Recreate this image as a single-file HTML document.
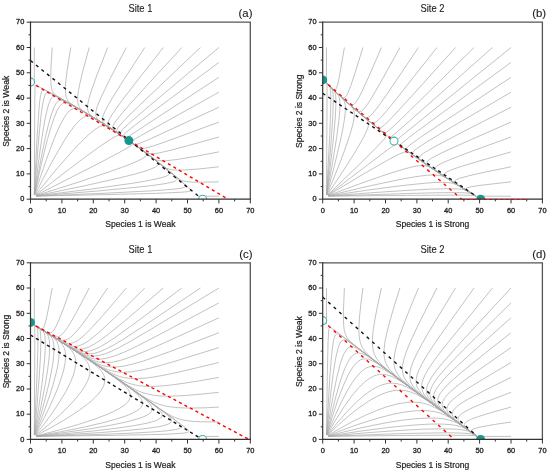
<!DOCTYPE html>
<html><head><meta charset="utf-8"><title>Phase planes</title>
<style>html,body{margin:0;padding:0;background:#fff;overflow:hidden;} svg{display:block;}</style>
</head><body>
<svg width="550" height="473" viewBox="0 0 550 473">
<rect width="550" height="473" fill="#fff"/>
<clipPath id="cpa"><rect x="30.5" y="22.2" width="219.8" height="177.0"/></clipPath>
<g clip-path="url(#cpa)">
<g fill="none" stroke="#a8a8a8" stroke-width="0.7">
<path d="M34.3 47.5l0 36.8"/>
<path d="M52.2 47.5l-1.3 21.1-.1 12.7 .3 4.3 .5 3.2 .8 2.5 1.3 2 1.9 1.9 2.8 1.9 23.9 13.7 18.4 11.2 13.3 8.5 12.8 8.7"/>
<path d="M70.7 47.5l-3.6 23.2-1 8.3-.6 6.1-.1 5.1 .2 3.9 .7 3.3 1.1 2.5 .9 1.3 1.4 1.4 3.4 2.6 30.2 18.4 12.2 7.9 11.9 8.1"/>
<path d="M89.2 47.5l-7 26.1-2.1 8.9-1.4 6.8-.8 5.5-.3 4.3 .2 3.4 .8 3 .8 1.6 1.2 1.5 1.5 1.4 2.2 1.7 25 15.7 18.6 12.5"/>
<path d="M107.7 47.5l-11.1 28.5-5.9 16.8-1.7 5.9-1.1 4.7-.4 3.7 .3 3.1 .6 1.8 1 1.6 1.4 1.6 1.8 1.5 21.6 14 13.9 9.3"/>
<path d="M126.3 47.5l-16.1 31-8.5 17.4-2.8 6.3-1.8 4.9-1.1 4-.3 3.1 .2 1.8 .7 1.7 1.1 1.5 1.7 1.6 28.7 19.3"/>
<path d="M144.8 47.5l-21.7 33.3-11.4 18.3-3.7 6.3-2.7 5.2-1.8 4.1-.9 3-.2 1.8 .3 1.8 .8 1.4 1.4 1.5 2.9 2.2 20.5 13.8"/>
<path d="M163.3 47.5l-28.7 36.6-13.9 18.1-8.2 11.6-2.4 4.1-1.5 3.1-.5 2 0 1.6 .5 1.5 1 1.1 2.6 2.1 16.2 11"/>
<path d="M181.8 47.5l-35.9 39.1-16.5 18.2-10.1 11.8-3.2 4.1-2 3-1 1.9-.4 1.6 .1 1.2 .8 1.4 2.3 1.9 12.5 8.6"/>
<path d="M200.4 47.5l-63.4 60.2-11.9 11.8-6.2 6.8-1.4 2.1-.7 1.5-.1 1.2 .4 1 1.9 1.7 9.5 6.5"/>
<path d="M218.9 47.5l-74.9 62.9-13.5 11.6-7.2 6.7-2.7 3.4-.5 1.2 0 .7 .5 .7 .9 .8 7 4.9"/>
<path d="M218.9 196.2l-20.6 0"/>
<path d="M218.9 181.8l-16.1 .4-10.4-.1-6.5-.6-2.4-.5-2.3-.8-1.8-1-2.2-1.5-24.3-19.5-11.1-8.3-11.3-8.2"/>
<path d="M218.9 166.8l-20.7 2.2-13.9 1-8.9 .1-3.5-.3-2.6-.6-3-1.1-3.3-2.1-18.1-13.9-15-10.8"/>
<path d="M218.9 151.9l-25.2 4.8-16.5 2.8-10.7 1.2-3.7 .2-3.1-.2-3.3-.8-3.3-1.7-23.5-17.1"/>
<path d="M218.9 137l-29.3 8.2-18.6 5-11.8 2.7-4.1 .7-3 .2-3.5-.2-1.5-.4-1.4-.7-16.3-11.5"/>
<path d="M218.9 122.1l-53.2 19.6-12.4 4.3-7.6 2.1-3.4 .4-1.3-.1-1.2-.3-2-1.2-8.6-6.1"/>
<path d="M218.9 107.2l-58.6 27.1-12.8 5.8-7.5 3.1-3.3 1-2 .2-1.2-.6-4.5-3.1"/>
<path d="M218.9 92.2l-83.3 46.4-5.2 2.6-.5 .1-.8-.6"/>
<path d="M218.9 77.3l-66.4 43.4-21.5 14.2-3.1 2.3-1.3 1.3-.1 .2 .3 .4 1.8 1.3"/>
<path d="M218.9 62.4l-71 53-13.5 10.3-7.5 6-3.1 3-.5 .9-.1 .7 .9 .9 4.5 3.2"/>
<path d="M34.3 194.6l.5-95.3 .2-11.7 .2-1.8 .3-.6 2.5 1.1 15.5 8.2 21.9 12.3 19.1 11.3 18 11.4"/>
<path d="M34.3 194.6l2.4-50.8 2.1-32.1 .8-9.6 .9-6.5 1-3.7 .5-1 .6-.7 .8-.3 1 .1 3.3 1.4 13.8 7.5 14.9 8.4 12.6 7.5 12.1 7.4 11.5 7.4 11.2 7.5"/>
<path d="M34.4 194.7l3.6-47.6 1.6-17.6 1.4-13.8 1.4-9.8 1.3-6.8 1.3-4 .8-1.4 .7-.8 1-.4 1 0 3.1 1.2 8.1 4.2 13.9 7.8 13.7 8.1 13 7.9 12.4 8 12.3 8.2"/>
<path d="M34.4 194.7l5.6-43.8 2.5-16.9 2.2-13.1 2.1-10 1.9-7 1.9-4.3 1-1.6 1-.9 1-.4 1-.2 1.2 .1 1.6 .5 4.1 1.9 8.1 4.5 15 8.7 14.4 8.7 13.8 8.8 13 8.8"/>
<path d="M34.5 194.7l4-22.4 3.6-19.2 3.3-15.8 3.1-12.9 2.7-9.4 2.5-7.1 1.3-2.6 1.1-1.9 1.3-1.5 1.3-1 1.9-.6 1.4 .1 1.3 .3 3.4 1.3 5.6 3 13.8 8 14.1 8.7 13.3 8.5 13.1 8.8"/>
<path d="M34.6 194.7l4.6-21.2 4.3-18.5 3.9-15.4 3.6-12.4 3.2-9.5 2.9-7 1.3-2.4 1.5-2.2 1.3-1.5 1.3-1 1-.4 1.3-.3 2.4 .2 3.3 1.2 4.7 2.4 12.3 7.2 13.9 8.5 12.8 8.2 12.6 8.5"/>
<path d="M34.7 194.7l6.1-18.9 5.8-16.7 5.1-14.1 4.7-11.7 4.2-9.2 3.7-6.7 1.8-2.7 1.8-2.3 1.5-1.6 1.6-1.2 2.2-.9 2.7-.1 2.8 .7 4 1.9 8.7 5 12.9 8 11.7 7.6 11.3 7.7"/>
<path d="M35 194.8l8.4-16.7 7.8-14.7 7.2-12.8 6.2-10.5 5.6-8.4 4.9-6.6 4.2-4.5 2-1.7 1.8-1.3 2.5-1.1 2.4-.3 2.6 .4 3.2 1.4 5 2.8 9 5.7 19.9 13.3"/>
<path d="M35.3 194.9l21.6-26.1 9.4-10.8 8.4-9.4 7.2-7.4 6.2-6.1 5.3-4.5 4.2-2.9 2.5-1.3 2.3-.7 2.1 0 2.2 .6 2.4 1.1 3.3 2 15.7 10.7"/>
<path d="M35.6 195.1l27.1-21 22.7-17.2 16.5-11.9 10.7-7 4.8-2.5 1.5-.4 1.3 0 2 .9 6.3 4.3"/>
<path d="M35.9 195.4l61.8-31.5 18.6-9.8 11.2-6.2 3.9-2.5 1.4-1.4 0-.5-.3-.3-3.5-2.5"/>
<path d="M36 195.6l41.9-13.3 31.7-10.6 12.1-4.3 9.3-3.5 6.9-3 5-2.5 2-1.4 1.3-1.4 .2-1.2-.5-1.1-1.3-1.3-2.2-1.7-12.9-9.3"/>
<path d="M36.1 195.8l48.5-10 35.8-8.1 13.3-3.3 10-2.8 7.1-2.5 4.6-2.1 1.8-1.3 .8-1.3 0-.8-.3-.7-1.2-1.6-3.1-2.7-6.6-5-16.9-12.3"/>
<path d="M36.1 195.9l55.8-6.9 39.7-5.6 13.8-2.3 10.6-2.1 7.2-1.8 2.7-.9 1.8-.9 1.4-1.1 .3-.7 0-.8-.7-1.4-1.9-2-6.2-5.1-10.5-8.2-19.5-14.3"/>
<path d="M36.1 196l61.3-5 42.7-4.1 14.4-1.7 10.3-1.5 7-1.5 2.2-.6 1.7-.8 1.1-1.1 .1-.5-.1-.7-1.2-1.7-2.5-2.3-9.2-7.6-11.2-8.8-10.7-8.1-10.8-7.8"/>
<path d="M36.1 196.1l69.2-2.9 45.6-2.3 14.5-1 10.2-.9 6.3-.9 3-1 .6-.5 .2-.5-.3-.7-.6-.8-2.6-2.5-6.5-5.6-10.7-8.7-10.8-8.5-10.6-8.1-10.9-7.9"/>
<path d="M36.2 196.1l74.4-1.6 47.4-1.2 23.9-1.1 5.6-.5 2.9-.7 .4-.3 .1-.5-.4-.6-.9-1-16.6-14.3-19.3-15.4-19.3-14.4"/>
</g>
<line x1="30.5" y1="60.6" x2="202.3" y2="199.2" stroke="#111" stroke-width="1.4" stroke-dasharray="3.10 3.97"/>
<line x1="30.5" y1="82.1" x2="228.0" y2="199.2" stroke="#f00" stroke-width="1.4" stroke-dasharray="3.10 3.29"/>
<circle cx="128.9" cy="140.6" r="4.5" fill="#17968f"/>
<circle cx="30.5" cy="82.1" r="4" fill="#fff" stroke="#45afa7" stroke-width="1.05"/>
<circle cx="202.6" cy="199.2" r="4" fill="#fff" stroke="#45afa7" stroke-width="1.05"/>
</g>
<path d="M30.5 22.2H250.3V199.2" fill="none" stroke="#555" stroke-width="1.3"/>
<path d="M30.5 21.599999999999998V199.2H250.9" fill="none" stroke="#333" stroke-width="1.2"/>
<path d="M30.5 199.2v4.2M30.5 199.2h-3.8M46.2 199.2v2.2M30.5 186.6h-2M61.9 199.2v4.2M30.5 173.9h-3.8M77.6 199.2v2.2M30.5 161.3h-2M93.3 199.2v4.2M30.5 148.6h-3.8M109.0 199.2v2.2M30.5 136.0h-2M124.7 199.2v4.2M30.5 123.3h-3.8M140.4 199.2v2.2M30.5 110.7h-2M156.1 199.2v4.2M30.5 98.1h-3.8M171.8 199.2v2.2M30.5 85.4h-2M187.5 199.2v4.2M30.5 72.8h-3.8M203.2 199.2v2.2M30.5 60.1h-2M218.9 199.2v4.2M30.5 47.5h-3.8M234.6 199.2v2.2M30.5 34.8h-2M250.3 199.2v4.2M30.5 22.2h-3.8" stroke="#333" stroke-width="1" fill="none"/>
<g font-family="'Liberation Sans', Arial, Helvetica, sans-serif" font-size="7.4" fill="#222" stroke="#222" stroke-width="0.3">
<text x="30.5" y="212.8" text-anchor="middle">0</text>
<text x="24.3" y="201.4" text-anchor="end">0</text>
<text x="61.9" y="212.8" text-anchor="middle">10</text>
<text x="24.3" y="176.1" text-anchor="end">10</text>
<text x="93.3" y="212.8" text-anchor="middle">20</text>
<text x="24.3" y="150.8" text-anchor="end">20</text>
<text x="124.7" y="212.8" text-anchor="middle">30</text>
<text x="24.3" y="125.5" text-anchor="end">30</text>
<text x="156.1" y="212.8" text-anchor="middle">40</text>
<text x="24.3" y="100.3" text-anchor="end">40</text>
<text x="187.5" y="212.8" text-anchor="middle">50</text>
<text x="24.3" y="75.0" text-anchor="end">50</text>
<text x="218.9" y="212.8" text-anchor="middle">60</text>
<text x="24.3" y="49.7" text-anchor="end">60</text>
<text x="250.3" y="212.8" text-anchor="middle">70</text>
<text x="24.3" y="24.4" text-anchor="end">70</text>
</g>
<text x="140.4" y="12.4" text-anchor="middle" font-family="'Liberation Sans', Arial, Helvetica, sans-serif" font-size="10.3" fill="#222" stroke="#222" stroke-width="0.12" textLength="24" lengthAdjust="spacingAndGlyphs">Site 1</text>
<text x="252.5" y="16.7" text-anchor="end" font-family="'Liberation Sans', Arial, Helvetica, sans-serif" font-size="11.4" fill="#222" stroke="#222" stroke-width="0.12">(a)</text>
<text x="140.4" y="227.4" text-anchor="middle" font-family="'Liberation Sans', Arial, Helvetica, sans-serif" font-size="9.1" fill="#222" stroke="#222" stroke-width="0.22" textLength="70.2" lengthAdjust="spacingAndGlyphs">Species 1 is Weak</text>
<text transform="translate(9.4 111.2) rotate(-90)" x="0" y="0" text-anchor="middle" font-family="'Liberation Sans', Arial, Helvetica, sans-serif" font-size="9.1" fill="#222" stroke="#222" stroke-width="0.22" textLength="70.9" lengthAdjust="spacingAndGlyphs">Species 2 is Weak</text>
<clipPath id="cpb"><rect x="322.7" y="22.2" width="219.7" height="177.0"/></clipPath>
<g clip-path="url(#cpb)">
<g fill="none" stroke="#a8a8a8" stroke-width="0.7">
<path d="M326.5 47.5l0 35.5"/>
<path d="M344.4 47.5l-5.2 30.1-1.6 7.3-1.4 3.9-.5 .8-.6 .5-.5 0-.7-.2-1.8-1.4-5.5-5.2"/>
<path d="M362.9 47.5l-7.1 23.1-4.6 14-3.2 8.2-1.3 2.5-1.2 1.5-1 .8-1 .2-1-.2-1.3-.8-4.5-3.9-10-9.6"/>
<path d="M381.4 47.5l-12.1 28-7.3 15.9-2.7 5.3-2.1 3.6-1.8 2.5-1.5 1.5-1.2 .6-1.3 0-1.4-.5-1.9-1.3-9.1-8.1-12.3-11.7"/>
<path d="M399.9 47.5l-18.4 33.3-9.9 17.1-3.4 5.3-2.8 3.9-2.2 2.6-1.9 1.4-1.5 .4-1.3-.2-1.7-.8-2.3-1.6-13.7-12.2-14.2-13.5"/>
<path d="M418.4 47.5l-25.4 37.8-12.7 18.4-4.4 5.8-3.2 3.9-2.6 2.6-2.1 1.3-1.5 .3-1.5-.4-1.8-1.1-2.5-1.8-17.4-15.3-16.5-15.6"/>
<path d="M436.9 47.5l-33.6 42.7-15.3 19.1-5.1 5.9-3.8 4.1-2.8 2.4-2.1 1.2-1.5 .2-1.7-.6-1.9-1.3-3.6-2.9-10.1-8.6-10-8.8-9.5-8.8-8.9-8.5"/>
<path d="M455.5 47.5l-42.8 47.5-18.2 19.8-5.7 6-4.1 3.9-2.7 2.2-2.1 1.1-1 .2-.8-.2-1.8-.9-11.6-9.5-19.5-16.9-9.1-8.4-8.6-8.2"/>
<path d="M474 47.5l-73.9 72.6-10.4 9.6-2.8 2.2-1.9 .9-.7 0-.8-.1-1.7-1.1-18.5-15.1-17.9-15.6-16.5-15.4"/>
<path d="M492.5 47.5l-87.6 77.6-10.9 9.4-2.6 2-1.4 .7-.7 0-1.3-.8-20.6-16.5-15.9-13.6-14.8-13.5"/>
<path d="M511 47.5l-116 93.7-.2 .4 .2 .2 14.8 11"/>
<path d="M511 196.2l-34.7 0"/>
<path d="M511 181.8l-31.9 3.7-7.9 1.3-4.3 1.1-.9 .5-.3 .4 0 .5 .6 .8 2.5 1.7 7.2 4.3"/>
<path d="M511 166.8l-26.3 5.4-16 3.6-9.1 2.5-2.8 1.1-1.6 1-.6 .8 0 1 .6 .8 1.4 1.2 6.5 4.2 12.9 7.6"/>
<path d="M511 151.9l-32.5 9.3-18.7 5.7-6.2 2.1-4.4 1.8-2.8 1.4-1.7 1.4-.4 1.2 .3 .9 1 1.2 2 1.6 12.3 7.9 16.1 9.7"/>
<path d="M511 137l-38.8 14.1-20.9 8-6.6 2.8-4.6 2.2-3.1 1.8-1.6 1.6-.3 1.2 .4 1.2 1.3 1.3 2.5 1.9 17.3 11.3 19.3 11.6"/>
<path d="M511 122.1l-45.4 19.9-22.4 10.2-7.2 3.6-4.7 2.6-3 2.1-1.3 1.6-.2 1.3 .7 1.3 1.7 1.6 3.2 2.3 21.6 14.2 21.9 13.2"/>
<path d="M511 107.2l-51.9 26.6-23.5 12.4-7.4 4.2-4.7 2.9-2.9 2.3-1.3 1.7-.1 .7 .2 .8 1.1 1.4 2.7 2.1 5.7 4 11.9 7.9 11.7 7.6 11.7 7.2 11.5 6.9"/>
<path d="M511 92.2l-58.1 34.1-24.4 14.6-7.3 4.7-4.7 3.2-2.8 2.3-1.2 1.7-.1 .7 .2 .8 1.6 1.6 15.2 10.7 11.7 7.8 11.5 7.5 11.5 7.1 11.1 6.6"/>
<path d="M511 77.3l-64.6 42.7-24.6 16.4-12 8.6-2.6 2.3-1.1 1.5 0 .5 .3 .7 1.7 1.5 10.6 7.7 11.9 8.2 21.9 14.4 21.5 13.1"/>
<path d="M511 62.4l-95.7 70.3-11.6 8.9-2.4 2.1-.9 1.3-.1 .5 .3 .4 1.8 1.4 12.5 9.2 13 9.1 19.9 13.2 19.9 12.4"/>
<path d="M326.5 194.6l.5-94.4 0-14.2-.1-2-.2-.7"/>
<path d="M326.6 194.7l3.2-60.9 .8-21 .3-14.1-.2-7-.5-3.9-.9-1.8-2.8-2.9"/>
<path d="M326.6 194.7l2.9-32.9 2.1-27.1 1.3-20.5 .4-13.8-.3-6.8-.3-2.3-.5-1.8-1.4-2.1-4.2-4.2"/>
<path d="M326.7 194.7l4.1-32.7 2.9-26.4 1.7-19.7 .6-13.7-.3-6.4-.5-2.4-.6-1.7-1.8-2.4-6.1-6"/>
<path d="M326.7 194.7l5.9-32.3 4.2-25.9 2.4-19.1 .6-7.1 .2-5.6-.1-3.2-.3-2.6-.6-2.1-.9-1.9-2.2-2.7-9.3-9"/>
<path d="M326.9 194.7l8.2-31.8 5.9-24.9 1.9-9.6 1.4-8.3 .9-6.6 .2-5.1-.1-3.1-.5-2.4-.7-1.9-1.1-1.8-2.6-2.9-13.9-13.1"/>
<path d="M327.1 194.7l12.4-30.9 4.7-12.5 3.8-10.8 2.9-9 1.9-7 1.2-5.6 .3-4.5-.1-2.3-.6-2-.8-1.7-1.4-1.8-24.6-23.2"/>
<path d="M327.4 194.8l19.1-29.1 7.3-11.5 5.6-9.5 4.2-7.4 2.8-5.8 1.6-4.3 .6-3.2-.2-1.3-.4-1.2-.8-1.3-1.3-1.4-21.5-18.8-17.3-16.3"/>
<path d="M327.7 195l29-28 18.5-18.3 8.6-9.2 1.8-2.4 .5-1.4-.3-.7-.8-.9-16.4-13.2-14.9-12.7-10.6-9.4-10-9.3"/>
<path d="M327.8 195.1l55.9-42.4 9.8-7.2 2.2-1.4 1.2-.4 .5 0 .6 .4 13.1 9.7 13.1 9.2 19.7 13.3"/>
<path d="M328 195.3l34.8-20.9 23.8-13.7 7.6-4.1 5.5-2.7 4.1-1.6 2.6-.5 1.8 .3 1.8 .9 17.6 12.3 15 10.1 15.8 10.1 15.3 9.2"/>
<path d="M328.2 195.5l37.4-13.8 15-5.2 12.9-4.3 10.1-3 8.1-2.2 6.1-1.2 4.8-.3 2.1 .1 2.1 .4 2 .7 2.1 1.1 24.9 16 19.9 12.1"/>
<path d="M328.3 195.7l39.6-9.4 30.6-6.5 11.6-2.2 9.7-1.5 7.7-.9 6.2-.3 3.3 .2 3 .4 2.5 .8 2.5 1 3.4 2 15.2 9.4 12.5 7.4"/>
<path d="M328.3 195.9l40.9-6 32.7-4.3 24.2-2.5 9-.6 7-.2 4.4 .1 3.5 .4 2.9 .6 2.6 .8 4.1 2.1 16.5 9.8"/>
<path d="M328.3 196l42.3-3.2 34.7-2.3 26.1-1.4 18.2-.4 9.2 .3 2.9 .3 2.6 .6 3.5 1.4 8.4 4.8"/>
<path d="M328.3 196.1l79.3-2.6 27.5-.7 19.3-.2 9.8 .2 5.3 .4 2.7 .7 4 2.3"/>
<path d="M328.3 196.1l79.6-.7 48.5-.3 16.3 .2 2.1 .2 1.3 .6"/>
</g>
<line x1="322.7" y1="93.3" x2="474.6" y2="195.1" stroke="#111" stroke-width="1.4" stroke-dasharray="3.10 3.52"/>
<line x1="322.7" y1="79.9" x2="461.7" y2="199.2" stroke="#f00" stroke-width="1.4" stroke-dasharray="3.10 4.15"/>
<circle cx="322.7" cy="79.9" r="4.5" fill="#17968f"/>
<circle cx="480.7" cy="199.2" r="4.5" fill="#17968f"/>
<circle cx="394.0" cy="141.1" r="4" fill="#fff" stroke="#45afa7" stroke-width="1.05"/>
</g>
<path d="M322.7 22.2H542.4V199.2" fill="none" stroke="#555" stroke-width="1.3"/>
<path d="M322.7 21.599999999999998V199.2H543.0" fill="none" stroke="#333" stroke-width="1.2"/>
<line x1="461.7" y1="199.55" x2="526.7" y2="199.55" stroke="#e00" stroke-width="1.1" stroke-dasharray="2.9 2.6"/>
<path d="M322.7 199.2v4.2M322.7 199.2h-3.8M338.4 199.2v2.2M322.7 186.6h-2M354.1 199.2v4.2M322.7 173.9h-3.8M369.8 199.2v2.2M322.7 161.3h-2M385.5 199.2v4.2M322.7 148.6h-3.8M401.2 199.2v2.2M322.7 136.0h-2M416.9 199.2v4.2M322.7 123.3h-3.8M432.5 199.2v2.2M322.7 110.7h-2M448.2 199.2v4.2M322.7 98.1h-3.8M463.9 199.2v2.2M322.7 85.4h-2M479.6 199.2v4.2M322.7 72.8h-3.8M495.3 199.2v2.2M322.7 60.1h-2M511.0 199.2v4.2M322.7 47.5h-3.8M526.7 199.2v2.2M322.7 34.8h-2M542.4 199.2v4.2M322.7 22.2h-3.8" stroke="#333" stroke-width="1" fill="none"/>
<g font-family="'Liberation Sans', Arial, Helvetica, sans-serif" font-size="7.4" fill="#222" stroke="#222" stroke-width="0.3">
<text x="322.7" y="212.8" text-anchor="middle">0</text>
<text x="316.5" y="201.4" text-anchor="end">0</text>
<text x="354.1" y="212.8" text-anchor="middle">10</text>
<text x="316.5" y="176.1" text-anchor="end">10</text>
<text x="385.5" y="212.8" text-anchor="middle">20</text>
<text x="316.5" y="150.8" text-anchor="end">20</text>
<text x="416.9" y="212.8" text-anchor="middle">30</text>
<text x="316.5" y="125.5" text-anchor="end">30</text>
<text x="448.2" y="212.8" text-anchor="middle">40</text>
<text x="316.5" y="100.3" text-anchor="end">40</text>
<text x="479.6" y="212.8" text-anchor="middle">50</text>
<text x="316.5" y="75.0" text-anchor="end">50</text>
<text x="511.0" y="212.8" text-anchor="middle">60</text>
<text x="316.5" y="49.7" text-anchor="end">60</text>
<text x="542.4" y="212.8" text-anchor="middle">70</text>
<text x="316.5" y="24.4" text-anchor="end">70</text>
</g>
<text x="432.5" y="12.4" text-anchor="middle" font-family="'Liberation Sans', Arial, Helvetica, sans-serif" font-size="10.3" fill="#222" stroke="#222" stroke-width="0.12" textLength="24" lengthAdjust="spacingAndGlyphs">Site 2</text>
<text x="546.1" y="16.7" text-anchor="end" font-family="'Liberation Sans', Arial, Helvetica, sans-serif" font-size="11.4" fill="#222" stroke="#222" stroke-width="0.12">(b)</text>
<text x="432.5" y="227.4" text-anchor="middle" font-family="'Liberation Sans', Arial, Helvetica, sans-serif" font-size="9.1" fill="#222" stroke="#222" stroke-width="0.22" textLength="73.5" lengthAdjust="spacingAndGlyphs">Species 1 is Strong</text>
<text transform="translate(301.6 111.2) rotate(-90)" x="0" y="0" text-anchor="middle" font-family="'Liberation Sans', Arial, Helvetica, sans-serif" font-size="9.1" fill="#222" stroke="#222" stroke-width="0.22" textLength="73.5" lengthAdjust="spacingAndGlyphs">Species 2 is Strong</text>
<clipPath id="cpc"><rect x="30.5" y="262.8" width="219.8" height="176.6"/></clipPath>
<g clip-path="url(#cpc)">
<g fill="none" stroke="#a8a8a8" stroke-width="0.7">
<path d="M34.3 288l0 37.1"/>
<path d="M52.2 288l-3 16.7-2.2 11-1.6 7-1.5 4.2-1.2 1.7-.7 .4-.8 0-1.6-.7-5.2-3.1"/>
<path d="M70.7 288l-6.8 19.3-4.7 12.1-3.5 7.7-1.6 2.7-1.4 1.7-1.3 1-1.2 .5-1.3 .1-1.5-.4-3.2-1.6-9.8-5.9"/>
<path d="M89.2 288l-11.3 21.6-7.4 13.2-3.1 4.9-2.6 3.6-2.2 2.4-2.1 1.9-1.7 .9-1.8 .4-1.9-.1-2-.7-4.4-2.2-14.3-8.7"/>
<path d="M107.7 288l-16.9 24.7-10.1 13.7-4 4.7-3.3 3.6-3 2.7-2.9 1.8-2.3 .9-2.2 .3-2.4-.4-2.4-.8-5.4-2.8-18.4-11.2"/>
<path d="M126.3 288l-22.7 26.7-13.2 14.5-5 5-4.3 3.8-3.7 2.7-3.4 1.8-2.7 .8-2.7 .2-2.7-.4-3.1-1-6.3-3.4-22-13.4"/>
<path d="M144.8 288l-29.9 29.5-15.5 14.5-6.1 5.2-5.1 3.8-4.4 2.8-4 1.7-3.4 .8-3 .1-3.3-.6-3.2-1.2-7.1-3.9-25.4-15.5"/>
<path d="M163.3 288l-37.9 32.4-17.8 14.4-7.3 5.4-5.8 3.8-5 2.7-4.4 1.6-3.6 .8-3.3 0-3.7-.7-3.8-1.4-3.4-1.8-4.2-2.4-28.7-17.6"/>
<path d="M181.8 288l-46.7 35.1-20 14.4-8 5.2-6.6 3.9-5.7 2.7-4.9 1.6-4 .7-3.8-.1-3.8-.8-4.3-1.7-3.7-1.9-4.4-2.5-31.5-19.4"/>
<path d="M200.4 288l-56.3 37.8-21.5 13.9-9.1 5.4-7.5 3.9-6 2.6-5.4 1.7-4.4 .6-4.3-.1-4.3-1-4.3-1.7-3.8-1.9-4.8-2.8-34.2-21.1"/>
<path d="M218.9 288l-67.3 40.9-22.3 13.1-10.1 5.5-8 3.8-6.7 2.7-5.7 1.5-4.7 .6-4.5-.2-4.6-1-4.9-2-4-2.1-4.9-2.8-36.8-22.8"/>
<path d="M218.9 436.4l-21.5 0"/>
<path d="M218.9 422l-18.4-.2-6.8-.4-5.8-.6-4.7-.8-4.4-1.1-3.9-1.4-3.9-1.8-4.5-2.6-5.8-3.8-40.6-28.5-30.6-20.7-27.6-17.9-27.1-16.8"/>
<path d="M218.9 407.1l-13.5 .7-10.9 .2-9.2 0-7.9-.4-6.8-.7-5.8-1-5.3-1.5-5.3-2-6-3.1-7.3-4.4-39.3-26.7-20.4-13.6-23.6-15.1-23.1-14.2"/>
<path d="M218.9 392.3l-16.4 1.7-13.2 1.2-11.1 .7-9.6 .3-7.8-.2-7-.7-6.2-1.2-5.9-1.8-3.9-1.6-3.8-1.8-9.1-5.3-52.2-34.5-19.2-12.2-19-11.6"/>
<path d="M218.9 377.4l-19.3 3.4-15.3 2.4-12.8 1.8-10.4 1-8.9 .5-7.5-.2-6.7-.7-6.1-1.4-4.2-1.4-4.5-1.9-4.8-2.4-5.3-3.1-8.2-5.2-39.1-25.5-31.2-19.4"/>
<path d="M218.9 362.5l-38.9 9.3-14 3-11 2-9.4 1.3-7.9 .5-7-.1-6.5-.9-4.6-1.1-4.6-1.7-5-2.3-5.5-3-9-5.6-35.6-23-25.3-15.6"/>
<path d="M218.9 347.6l-44 13.7-14.6 4.2-11.4 3-10 2.1-8.3 1.3-6.9 .4-6.3-.4-4.9-.9-4.6-1.3-4.8-2.1-5.6-2.9-9.1-5.5-33.5-21.4-20.4-12.5"/>
<path d="M218.9 332.7l-48.8 18.8-14.9 5.4-11.6 4-10.2 3-8.4 2-7.2 1-6.1 .1-5-.5-4.4-1.1-4.8-1.8-5.5-2.6-8.5-5-28.3-18-20.8-12.8"/>
<path d="M218.9 317.8l-54.3 24.9-14.6 6.5-11.1 4.6-10.3 3.9-8.2 2.7-7 1.6-6.4 .7-4.8-.1-4.7-.8-4.8-1.5-5.2-2.4-8.9-5.2-25.8-16.2-18.3-11.3"/>
<path d="M218.9 302.9l-60.4 32.2-24.6 12.6-10.1 4.6-8.3 3.3-7 2.2-6 1.1-4.8 .3-4.7-.6-4.6-1.3-4.9-2.1-8.9-5-23.9-15-16.3-10"/>
<path d="M34.3 434.9l.5-92 0-14.9-.1-2.3-.2-.5"/>
<path d="M34.3 434.9l2.7-58.9 .7-21.5 .3-14.8-.2-7.7-.5-3.9-.3-1-.5-.6-2.1-1.3"/>
<path d="M34.4 434.9l2.8-30.9 2-27 1.3-21 .4-14.7-.3-7.7-.3-2.3-.5-1.8-.7-1.1-.7-.7-4.1-2.6"/>
<path d="M34.5 434.9l4.6-30 3.5-26 2.1-20.3 .5-8 .2-6.6-.2-4.4-.3-3.3-.6-2.6-.8-1.9-1-1.3-1.4-1.1-6.6-4.2"/>
<path d="M34.6 434.9l6.5-29.1 4.8-25.2 1.7-10.9 1.2-9.2 .7-7.7 .2-6.4-.2-4.3-.5-3.3-.7-2.6-1.2-2.1-1.3-1.5-1.8-1.5-9.5-5.9"/>
<path d="M34.7 435l4.3-14 3.9-13.8 3.4-12.8 2.8-11.5 2.2-10.6 1.5-9 .9-7.7 .3-6.4-.2-4.3-.5-3.3-1-2.8-1.5-2.4-1.7-1.7-2.4-1.9-12.3-7.6"/>
<path d="M34.9 435l5.5-13.6 4.9-13.4 4.3-12.3 3.5-11.1 2.6-9.8 2-8.6 1.1-7.5 .4-6.4-.3-4.3-.8-3.6-1.3-2.9-1.9-2.6-2.1-2-3.2-2.3-15.2-9.4"/>
<path d="M35 435l7-12.8 6.2-12.5 5.4-11.7 4.4-10.5 3.4-9.7 2.4-8.3 1.4-7.2 .5-6.2-.4-4.2-.9-3.6-1.7-3.2-2.4-2.9-2.8-2.4-4.1-2.9-19-11.7"/>
<path d="M35.3 435.2l9.2-11.6 8.3-11.4 7-10.6 6-10 4.5-8.9 3.1-7.7 1-3.5 .8-3.5 .5-3 .1-2.8-.5-4.3-1.3-3.6-2.1-3.4-3.2-3.4-4-3.2-5.6-3.8-24.6-15.2"/>
<path d="M35.6 435.4l12.3-10 11.1-9.7 9.4-9.1 7.9-8.6 6-7.9 2.4-3.6 1.9-3.5 1.6-3.4 1-3.1 .6-2.9 .1-2.6-.1-2.1-.5-2.2-.7-1.9-1-2.1-1.2-1.8-1.7-2-4.2-3.9-5.8-4.4-8.5-5.7-15.1-9.5-16.6-10.1"/>
<path d="M35.9 435.6l15.7-8.3 14.3-8.3 12.2-7.9 9.8-7.3 4-3.3 3.4-3.3 3-3.1 2.3-3 1.9-3 1.3-2.8 .7-2.7 .3-2.7-.3-2.1-.5-2.1-.9-1.9-1.2-2-1.7-2.1-2-2.1-5.5-4.7-8.2-5.9-13.1-8.7-18.4-11.7-18.5-11.4"/>
<path d="M36.1 436l22.3-5.8 19.9-5.7 16.5-5.4 13.3-5.1 5.5-2.5 4.4-2.3 3.9-2.3 3.2-2.3 2.5-2.4 1.6-2.1 .9-2.1 .4-2.3-.3-1.9-.7-2-1.2-2-1.7-2.1-2.1-2.2-2.9-2.6-7.7-6-15-10.5-21.7-14.4-21.4-13.6-21.2-13.1"/>
<path d="M36.1 436.1l25.5-4.5 22.9-4.6 18.6-4.3 15-4.2 5.9-1.9 5.1-1.9 4.2-1.9 3.6-2 2.6-1.9 1.7-1.8 1.1-2 .4-2-.3-1.7-.8-1.9-1.4-2-1.9-2.1-5.9-5.3-9.2-6.9-19.5-13.6-24-15.9-22.6-14.5-22.4-13.8"/>
<path d="M36.1 436.2l28.5-3.7 24.8-3.6 20.5-3.5 16.2-3.4 11.8-3.2 4.3-1.5 3.7-1.6 2.9-1.6 1.9-1.7 1.1-1.6 .4-1.8-.3-1.7-.9-1.8-1.5-2-2.1-2.2-6.5-5.5-11.2-8.2-23-15.9-24.8-16.6-23.8-15.3-23.3-14.4"/>
<path d="M36.1 436.3l31.6-2.8 27.1-2.7 22.2-2.6 17.4-2.6 12.5-2.4 4.7-1.2 3.8-1.2 2.9-1.3 2.1-1.4 1.3-1.4 .4-1.6-.3-1.6-.9-1.6-1.8-2.1-2.6-2.5-8.6-6.7-15.2-11-25.2-17.4-24.9-16.7-24.1-15.4-23.5-14.5"/>
<path d="M36.1 436.3l35.3-1.9 29.9-1.9 23.9-1.9 18.5-1.8 13-1.8 4.8-.9 3.8-1 2.8-.9 2-1 1.1-1.2 .4-1.2-.5-1.6-1.2-1.7-2.4-2.3-3.5-3-13.8-10.2-23.2-16.4-24-16.5-23.4-15.5-22.4-14.4-22.2-13.6"/>
<path d="M36.2 436.4l72.2-2.3 25.7-1.1 19.5-1.1 13.1-1.1 8.4-1.2 2.7-.6 1.8-.7 1.1-.8 .4-1-.5-1.2-1.5-1.8-7-5.6-24.3-17.6-27.3-19.2-22.1-15.1-21.4-14.1-20.9-13.4-20.7-12.7"/>
<path d="M36.2 436.4l80.4-1.1 46.8-1 12.4-.6 7.8-.6 4-.7 1-.4 .3-.7-.6-1.1-1.9-1.8-13.8-10.2-28.8-20.8-27.8-19.4-20.6-14-20.3-13.3-19.7-12.6-19.3-11.9"/>
</g>
<line x1="30.5" y1="335.0" x2="202.3" y2="439.4" stroke="#111" stroke-width="1.4" stroke-dasharray="3.10 3.34"/>
<line x1="30.5" y1="323.1" x2="249.0" y2="439.4" stroke="#f00" stroke-width="1.4" stroke-dasharray="3.10 3.13"/>
<circle cx="30.5" cy="322.4" r="4.5" fill="#17968f"/>
<circle cx="202.6" cy="439.4" r="4" fill="#fff" stroke="#45afa7" stroke-width="1.05"/>
</g>
<path d="M30.5 262.8H250.3V439.45" fill="none" stroke="#555" stroke-width="1.3"/>
<path d="M30.5 262.2V439.45H250.9" fill="none" stroke="#333" stroke-width="1.2"/>
<path d="M30.5 439.4v4.2M30.5 439.4h-3.8M46.2 439.4v2.2M30.5 426.8h-2M61.9 439.4v4.2M30.5 414.2h-3.8M77.6 439.4v2.2M30.5 401.6h-2M93.3 439.4v4.2M30.5 389.0h-3.8M109.0 439.4v2.2M30.5 376.4h-2M124.7 439.4v4.2M30.5 363.7h-3.8M140.4 439.4v2.2M30.5 351.1h-2M156.1 439.4v4.2M30.5 338.5h-3.8M171.8 439.4v2.2M30.5 325.9h-2M187.5 439.4v4.2M30.5 313.3h-3.8M203.2 439.4v2.2M30.5 300.7h-2M218.9 439.4v4.2M30.5 288.0h-3.8M234.6 439.4v2.2M30.5 275.4h-2M250.3 439.4v4.2M30.5 262.8h-3.8" stroke="#333" stroke-width="1" fill="none"/>
<g font-family="'Liberation Sans', Arial, Helvetica, sans-serif" font-size="7.4" fill="#222" stroke="#222" stroke-width="0.3">
<text x="30.5" y="453.1" text-anchor="middle">0</text>
<text x="24.3" y="441.6" text-anchor="end">0</text>
<text x="61.9" y="453.1" text-anchor="middle">10</text>
<text x="24.3" y="416.4" text-anchor="end">10</text>
<text x="93.3" y="453.1" text-anchor="middle">20</text>
<text x="24.3" y="391.2" text-anchor="end">20</text>
<text x="124.7" y="453.1" text-anchor="middle">30</text>
<text x="24.3" y="365.9" text-anchor="end">30</text>
<text x="156.1" y="453.1" text-anchor="middle">40</text>
<text x="24.3" y="340.7" text-anchor="end">40</text>
<text x="187.5" y="453.1" text-anchor="middle">50</text>
<text x="24.3" y="315.5" text-anchor="end">50</text>
<text x="218.9" y="453.1" text-anchor="middle">60</text>
<text x="24.3" y="290.2" text-anchor="end">60</text>
<text x="250.3" y="453.1" text-anchor="middle">70</text>
<text x="24.3" y="265.0" text-anchor="end">70</text>
</g>
<text x="140.4" y="253.1" text-anchor="middle" font-family="'Liberation Sans', Arial, Helvetica, sans-serif" font-size="10.3" fill="#222" stroke="#222" stroke-width="0.12" textLength="24" lengthAdjust="spacingAndGlyphs">Site 1</text>
<text x="252.5" y="257.8" text-anchor="end" font-family="'Liberation Sans', Arial, Helvetica, sans-serif" font-size="11.4" fill="#222" stroke="#222" stroke-width="0.12">(c)</text>
<text x="140.4" y="468.1" text-anchor="middle" font-family="'Liberation Sans', Arial, Helvetica, sans-serif" font-size="9.1" fill="#222" stroke="#222" stroke-width="0.22" textLength="70.2" lengthAdjust="spacingAndGlyphs">Species 1 is Weak</text>
<text transform="translate(9.4 351.6) rotate(-90)" x="0" y="0" text-anchor="middle" font-family="'Liberation Sans', Arial, Helvetica, sans-serif" font-size="9.1" fill="#222" stroke="#222" stroke-width="0.22" textLength="73.5" lengthAdjust="spacingAndGlyphs">Species 2 is Strong</text>
<clipPath id="cpd"><rect x="322.7" y="262.8" width="219.7" height="176.6"/></clipPath>
<g clip-path="url(#cpd)">
<g fill="none" stroke="#a8a8a8" stroke-width="0.7">
<path d="M326.5 288l0 35.9"/>
<path d="M344.4 288l-1 23.7 0 8 .3 6 .6 4.6 1.1 3.8 1.5 3.3 2.2 2.9 3.7 3.4 5.9 4.9 34.5 26.1 44.5 33.1 39.4 28.6"/>
<path d="M362.9 288l-1.9 15-1.3 12-.7 9.6-.1 7.4 .5 6 1 4.9 1.7 4.2 2.4 3.7 2.9 3.2 4.2 3.9 6 4.9 9.3 7.2 46.7 34.8 43.5 31.5"/>
<path d="M381.4 288l-3.8 17.5-2.5 13-1.7 10.2-.9 8.3-.1 6.9 .6 5.4 .6 2.7 .8 2.3 2.2 4.3 2.7 3.6 3.8 3.8 5 4.4 7.4 5.9 38.8 29 42.8 31"/>
<path d="M399.9 288l-5.9 18.8-4.1 14.2-2.9 11.2-2 9.2-.9 7.6-.1 6.1 .4 2.6 .5 2.4 .7 2.4 1.1 2.4 2.4 3.8 3.5 3.9 4.5 4.3 6.6 5.5 11.5 8.8 19.3 14.2 42.6 30.9"/>
<path d="M418.4 288l-8.8 21.5-5.9 15-4.3 11.9-2.9 9.1-1.8 8.1-.8 6.4 0 2.7 .3 2.5 .5 2.7 .8 2.3 2 3.9 3 3.9 4.2 4.3 6 5.1 9.3 7.3 14.7 10.9 42.4 30.7"/>
<path d="M436.9 288l-12.2 24.1-7.8 15.6-5.6 11.9-4 9.6-2.9 8.2-1.6 6.7-.3 2.9-.1 2.8 .3 2.6 .4 2.2 1.6 3.9 2.7 4.1 3.7 4.1 5.7 5.1 7.7 6.1 12.1 9.1 40.5 29.4"/>
<path d="M455.5 288l-26.3 43.3-6.9 12-5.2 9.7-3.8 8.1-2.3 6.7-.7 3.1-.4 2.7-.1 2.6 .2 2.3 .4 2 .7 2.1 2.2 3.9 3.5 4.2 4.9 4.5 6.9 5.7 10.2 7.7 38.3 27.8"/>
<path d="M474 288l-33.3 46.7-8.1 11.9-6.1 9.4-4.8 8.3-3.2 6.8-1.1 2.9-.7 2.8-.5 2.4-.1 2.5 .2 2.1 .4 1.9 .7 2 1.1 2 2.9 4 4.5 4.5 6.1 5.1 9 6.8 36.2 26.3"/>
<path d="M492.5 288l-41.4 50.7-9.2 11.5-6.9 9.1-5.7 8.2-4 6.8-2.4 5.6-.8 2.4-.4 2.5 0 2.2 .2 1.9 .5 1.9 .8 2 1.2 2.1 1.5 1.9 4 4.2 5.5 4.8 8.1 6.2 33.6 24.3"/>
<path d="M511 288l-51.1 55.4-16.9 18.9-6.6 8.1-4.7 6.7-3.1 5.4-1.1 2.5-.6 2.3-.4 2.2 0 2 .3 2 .5 1.8 1 2 1.3 1.9 3.7 4.1 5 4.5 7.5 5.8 31.3 22.8"/>
<path d="M511 436.4l-33.7 0"/>
<path d="M511 422l-15.3 2.3-10.6 1.8-7.2 1.5-4.6 1.4-1.8 1.1-.3 .7 .1 .7 1.6 1.7 4.2 3.2"/>
<path d="M511 407.1l-19.6 5.4-12.6 3.9-8.3 3.1-2.8 1.4-1.8 1.3-1.1 1.1-.5 1.3 .2 1.2 .9 1.4 3.3 3 8.4 6.2"/>
<path d="M511 392.3l-23.2 8.9-14.7 6.3-5 2.4-4.2 2.3-2.9 2.1-1.9 1.8-.9 1.7-.2 1.8 .6 1.7 1.4 1.9 2 2 2.9 2.3 12.3 8.9"/>
<path d="M511 377.4l-27.6 13.6-15.7 8.4-5.4 3.3-4.4 3-3 2.7-1.9 2.5-.8 2 .1 2.2 .9 2 1.9 2.5 2.6 2.4 3.8 3 15.7 11.4"/>
<path d="M511 362.5l-31.3 18.7-9.9 6.1-7.1 4.7-5.9 4.3-4.5 3.7-2.8 3.1-1.9 3-.7 2.4 0 1.4 .3 1.3 1.3 2.6 2.3 2.6 3 2.8 4.7 3.6 18.7 13.6"/>
<path d="M511 347.6l-34.9 24.2-10 7.3-7.7 5.9-6.3 5.2-4.5 4.3-3.1 3.8-1.8 3.3-.6 2.8 0 1.4 .4 1.4 1.4 2.9 2.6 3.1 3.5 3.1 5.2 4.2 22 15.9"/>
<path d="M511 332.7l-38.9 30.9-10.4 8.6-7.6 6.5-6.4 6-4.6 4.9-3 4.1-1.2 2.1-.7 1.7-.4 1.6-.1 1.5 .1 1.7 .4 1.5 .7 1.7 1 1.5 3 3.5 4 3.6 5.8 4.5 24.4 17.8"/>
<path d="M511 317.8l-42.8 38.2-10.2 9.3-7.9 7.5-6.5 6.8-4.7 5.6-3 4.5-1.1 2.3-.7 1.9-.4 1.9-.1 1.8 .3 1.7 .4 1.5 .8 1.7 1.1 1.7 3.2 3.7 4.3 3.8 6.4 5 27 19.7"/>
<path d="M511 302.9l-47.4 46.8-9.6 9.8-7.6 7.9-6.4 7.3-4.8 6.2-3.2 5.3-1 2.3-.7 2.1-.3 1.8-.1 1.9 .3 1.9 .6 1.9 .8 1.7 1.2 1.8 3.5 4 4.6 4.1 6.9 5.4 29.3 21.3"/>
<path d="M326.5 434.9l.8-58.6 .7-33.2 .7-13.1 .5-2.3 .3-.4 .4-.2 1 .4 1.6 1.2 44.3 33.7 40 30 31.3 23 28.3 20.4"/>
<path d="M326.5 434.9l2.9-50.9 1.3-18.3 1.2-13.4 1.2-9.1 1.2-5.5 .7-1.8 .7-1.2 .8-.6 1-.2 1 .2 1.4 .6 3.9 2.7 41.7 31.6 31.8 23.7 31.3 23.1 28.4 20.4"/>
<path d="M326.6 434.9l2.4-24.7 2.3-21.5 2.2-17.1 2.1-12.9 2-8.9 1.9-5.7 1-2 1.1-1.2 1.3-.8 1.3-.2 1.6 .3 1.9 .9 6.1 4 69.3 51.9 28.3 20.8 25.7 18.5"/>
<path d="M326.7 434.9l3.5-22.4 3.5-19.6 3.1-15.5 3.1-12.3 2.8-8.5 1.5-3.3 1.4-2.5 1.4-1.9 1.4-1.3 1.7-.8 1.6-.1 2.3 .4 2.6 1.1 3.2 1.9 4.5 3.1 65.4 48.7 47.5 34.5"/>
<path d="M326.8 434.9l4.5-20.2 4.5-17.9 4.2-14.7 3.9-11.2 1.8-4.4 1.9-3.8 1.7-3.1 1.8-2.5 1.8-1.8 1.8-1.3 1.9-.8 2.1-.2 2.9 .5 3.2 1.3 3.9 2.2 4.9 3.3 62.6 46.4 40.9 29.7"/>
<path d="M326.9 434.9l5.5-18.4 5.3-16.3 5.2-13.5 4.8-10.8 2.3-4.3 2.2-3.4 2.2-3.2 2.1-2.2 2.2-1.8 2-1.2 2.1-.7 2.4-.3 3.2 .5 3.7 1.4 4.4 2.4 5.5 3.6 9.8 7.1 50.7 37.5 34.6 25"/>
<path d="M327 435l6.8-16.5 6.6-14.5 6.2-12 2.9-5.1 3-4.7 2.8-3.9 2.7-3.3 2.6-2.7 2.7-2.3 2.4-1.7 2.6-1.2 2.7-.7 2.5-.1 3.9 .5 4 1.4 4.7 2.5 6 3.8 9.4 6.7 44 32.4 31.7 22.8"/>
<path d="M327.2 435l8-14.2 8.1-12.9 7.6-10.8 3.7-4.6 3.4-4 3.4-3.5 3.1-2.9 3-2.3 3.1-2.1 3-1.5 2.9-1.1 3-.6 2.9-.2 4.2 .5 4.6 1.4 5.3 2.6 6.1 3.7 11.3 7.9 38 27.8 25.3 18.2"/>
<path d="M327.4 435.1l9.6-12 9.5-10.9 9-9.2 8.3-7.3 4.2-3.2 3.7-2.5 3.7-2.2 3.5-1.7 3.3-1.3 3.3-.9 3.2-.6 3.3-.2 4.9 .5 5.2 1.4 5.5 2.5 6.1 3.5 12.5 8.5 50.9 36.8"/>
<path d="M327.6 435.2l10.7-10.2 10.8-9.5 10-7.8 9.5-6.5 4.4-2.6 4.4-2.3 3.8-1.8 4.1-1.6 3.7-1.2 3.9-.9 3.5-.4 3.6-.2 5.4 .5 5.3 1.3 5.4 2.2 6.2 3.3 5.4 3.5 7.2 4.9 42.2 30.5"/>
<path d="M328 435.5l12.6-7.5 12.7-6.8 12.1-5.9 11.2-4.8 10.4-3.8 9.7-2.6 8.5-1.5 3.9-.4 3.9-.1 6 .3 5.9 1.2 5.6 1.8 5.6 2.7 5.4 3.1 6.3 4.2 29.3 20.9"/>
<path d="M328.1 435.7l14.2-5.6 14.3-5.2 13.5-4.4 12.5-3.6 11.3-2.8 10.5-2 9.7-1.2 8.4-.4 6.3 .3 6 .9 5.5 1.5 5.4 2.2 4.7 2.5 5.3 3.3 21.4 15.1"/>
<path d="M328.3 435.9l15.7-4 15.6-3.7 14.6-3.1 13.6-2.6 12.5-2 11.4-1.4 10.2-.8 8.8-.3 6.8 .2 6.2 .7 5.3 1.1 4.9 1.6 4 1.8 4.4 2.6 14.8 10.4"/>
<path d="M328.3 436.1l33.6-5.2 30.1-3.8 13.3-1.3 12-1 10.8-.6 9.4-.2 7.2 .2 6 .5 5.2 .7 4.6 1.2 3.6 1.3 3.2 1.7 9.8 6.7"/>
<path d="M328.3 436.2l35.3-3.2 31.9-2.3 26.5-1.5 20.8-.4 13.7 .4 4.9 .5 4.1 .7 2.9 .8 2.6 1.1 2.2 1.3 3.9 2.7"/>
<path d="M328.3 436.3l69.6-2.6 27.4-.6 21.5-.3 13.7 .2 8.9 .6 4.4 .8 1.4 .6 1.9 1.3"/>
<path d="M328.3 436.4l70.3-.9 49.9-.3 23 .2 4 .3 .9 .3 .7 .3"/>
</g>
<line x1="322.7" y1="297.1" x2="474.0" y2="433.5" stroke="#111" stroke-width="1.4" stroke-dasharray="3.10 4.31"/>
<line x1="322.7" y1="320.6" x2="454.2" y2="439.4" stroke="#f00" stroke-width="1.4" stroke-dasharray="3.10 4.31"/>
<circle cx="480.6" cy="439.4" r="4.5" fill="#17968f"/>
<circle cx="322.7" cy="320.6" r="4" fill="#fff" stroke="#45afa7" stroke-width="1.05"/>
</g>
<path d="M322.7 262.8H542.4V439.45" fill="none" stroke="#555" stroke-width="1.3"/>
<path d="M322.7 262.2V439.45H543.0" fill="none" stroke="#333" stroke-width="1.2"/>
<path d="M322.7 439.4v4.2M322.7 439.4h-3.8M338.4 439.4v2.2M322.7 426.8h-2M354.1 439.4v4.2M322.7 414.2h-3.8M369.8 439.4v2.2M322.7 401.6h-2M385.5 439.4v4.2M322.7 389.0h-3.8M401.2 439.4v2.2M322.7 376.4h-2M416.9 439.4v4.2M322.7 363.7h-3.8M432.5 439.4v2.2M322.7 351.1h-2M448.2 439.4v4.2M322.7 338.5h-3.8M463.9 439.4v2.2M322.7 325.9h-2M479.6 439.4v4.2M322.7 313.3h-3.8M495.3 439.4v2.2M322.7 300.7h-2M511.0 439.4v4.2M322.7 288.0h-3.8M526.7 439.4v2.2M322.7 275.4h-2M542.4 439.4v4.2M322.7 262.8h-3.8" stroke="#333" stroke-width="1" fill="none"/>
<g font-family="'Liberation Sans', Arial, Helvetica, sans-serif" font-size="7.4" fill="#222" stroke="#222" stroke-width="0.3">
<text x="322.7" y="453.1" text-anchor="middle">0</text>
<text x="316.5" y="441.6" text-anchor="end">0</text>
<text x="354.1" y="453.1" text-anchor="middle">10</text>
<text x="316.5" y="416.4" text-anchor="end">10</text>
<text x="385.5" y="453.1" text-anchor="middle">20</text>
<text x="316.5" y="391.2" text-anchor="end">20</text>
<text x="416.9" y="453.1" text-anchor="middle">30</text>
<text x="316.5" y="365.9" text-anchor="end">30</text>
<text x="448.2" y="453.1" text-anchor="middle">40</text>
<text x="316.5" y="340.7" text-anchor="end">40</text>
<text x="479.6" y="453.1" text-anchor="middle">50</text>
<text x="316.5" y="315.5" text-anchor="end">50</text>
<text x="511.0" y="453.1" text-anchor="middle">60</text>
<text x="316.5" y="290.2" text-anchor="end">60</text>
<text x="542.4" y="453.1" text-anchor="middle">70</text>
<text x="316.5" y="265.0" text-anchor="end">70</text>
</g>
<text x="432.5" y="253.1" text-anchor="middle" font-family="'Liberation Sans', Arial, Helvetica, sans-serif" font-size="10.3" fill="#222" stroke="#222" stroke-width="0.12" textLength="24" lengthAdjust="spacingAndGlyphs">Site 2</text>
<text x="546.1" y="257.8" text-anchor="end" font-family="'Liberation Sans', Arial, Helvetica, sans-serif" font-size="11.4" fill="#222" stroke="#222" stroke-width="0.12">(d)</text>
<text x="432.5" y="468.1" text-anchor="middle" font-family="'Liberation Sans', Arial, Helvetica, sans-serif" font-size="9.1" fill="#222" stroke="#222" stroke-width="0.22" textLength="73.5" lengthAdjust="spacingAndGlyphs">Species 1 is Strong</text>
<text transform="translate(301.6 351.6) rotate(-90)" x="0" y="0" text-anchor="middle" font-family="'Liberation Sans', Arial, Helvetica, sans-serif" font-size="9.1" fill="#222" stroke="#222" stroke-width="0.22" textLength="70.9" lengthAdjust="spacingAndGlyphs">Species 2 is Weak</text>
</svg>
</body></html>
